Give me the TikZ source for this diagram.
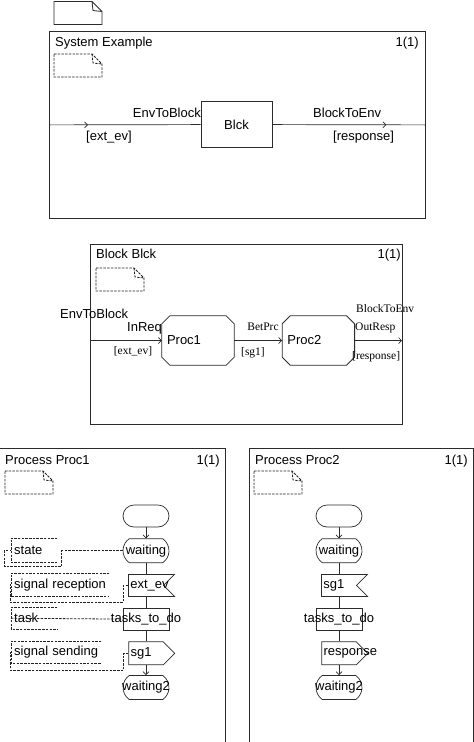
\documentclass[tikz,border=0pt]{standalone}
\usepackage{fontspec}
\setmainfont{Liberation Sans}
\newfontfamily\serifnote{Liberation Serif}
\usepackage{tikz}
\usetikzlibrary{arrows.meta,positioning,shapes.misc,shapes.symbols,decorations.markings}
\definecolor{Ink}{HTML}{2B2B2B}
\definecolor{Dash}{HTML}{222222}
\tikzset{
  frame/.style={draw=Ink,line width=0.8pt,anchor=north west,inner sep=0pt},
  title/.style={inner sep=0pt},
  symbol/.style={draw=Ink,line width=0.7pt,minimum width=46pt,minimum height=22pt,inner sep=0pt},
  startbox/.style={symbol,rounded rectangle},
  statebox/.style={symbol,rounded rectangle,rounded rectangle arc length=110,minimum height=24pt},
  inputbox/.style={symbol,signal,signal to=nowhere,signal from=east},
  outputbox/.style={symbol,signal,signal to=east,minimum height=23pt},
  taskbox/.style={symbol,rectangle},
  blockbox/.style={draw=Ink,line width=0.8pt,minimum width=71pt,minimum height=46pt},
  procbox/.style={minimum width=72pt,minimum height=49pt,inner sep=0pt},
  procline/.style={draw=Ink,line width=0.8pt},
  comment/.style={inner xsep=3pt,inner ysep=0pt,align=left,anchor=north west},
  note/.style={draw=Dash,line width=0.8pt,dash pattern=on 2.5pt off 1.2pt},
  chan/.style={draw=Ink,line width=0.7pt},
  flow/.style={draw=Ink,line width=0.7pt,-{Straight Barb[length=3pt,width=6pt]}},
  tipat/.style={postaction={decorate},decoration={markings,mark=at position #1 with {\arrow{Straight Barb[length=3pt,width=6pt]}}}},
  sigsans/.style={inner sep=0pt},
  sigserif/.style={font=\serifnote\fontsize{11.5}{13}\selectfont,inner sep=0pt},
  every label/.style={inner sep=2pt},
  docnote/.pic={\draw[pic actions] (0,0) -- (38,0) -- (48,10) -- (48,23) -- (0,23) -- cycle (38,0) -- (39,9) -- (48,10);}
}

\begin{document}
\begin{tikzpicture}[x=1pt,y=-1pt,font=\fontsize{13}{15}\selectfont]
  \useasboundingbox (0,0) rectangle (474,742);
  \pic[draw=Ink,line width=0.8pt] at (54,1.5) {docnote};

  \node[frame,minimum width=376pt,minimum height=187pt] (sysframe) at (49,31) {};
  \node[title,anchor=base west] (systitle) at (55,46.5) {System Example};
  \node[title,anchor=base east] (syspage) at (419,46.5) {1(1)};
  \pic[note] at (54,54) {docnote};
  \node[blockbox] (blck) at (236.5,124.5) {Blck};
  \draw[chan,tipat=39pt] (sysframe.west) -- (blck);
  \draw[chan,tipat=114pt] (blck) -- (sysframe.east);
  \node[sigsans,anchor=base east] (sysenv) at (201,117) {EnvToBlock};
  \node[sigsans,anchor=base west] (sysext) at (86,140) {[ext\_ev]};
  \node[sigsans,anchor=base west] (sysout) at (313,117) {BlockToEnv};
  \node[sigsans,anchor=base west] (sysresp) at (333,140) {[response]};

  \node[frame,minimum width=312pt,minimum height=180pt] (blkframe) at (90,244) {};
  \node[title,anchor=base west] (blktitle) at (96,258) {Block Blck};
  \node[title,anchor=base east] (blkpage) at (401,258) {1(1)};
  \pic[note] at (96,268) {docnote};
  \node[procbox,label={[anchor=west,inner sep=5pt]west:Proc1}] (proc1) at (198,340.5) {};
  \node[procbox,right=48pt of proc1,label={[anchor=west,inner sep=5pt]west:Proc2}] (proc2) {};
  \foreach \p in {proc1,proc2}
    \draw[procline] ([xshift=8pt]\p.north west) -- ([xshift=-8pt]\p.north east) -- ([yshift=-8pt]\p.north east)
      -- ([yshift=8pt]\p.south east) -- ([xshift=-8pt]\p.south east) -- ([xshift=8pt]\p.south west)
      -- ([yshift=8pt]\p.south west) -- ([yshift=-8pt]\p.north west) -- cycle;
  \coordinate (blkin) at (90,340.5);
  \coordinate (blkout) at (402,340.5);
  \draw[flow] (blkin) -- (proc1);
  \draw[flow] (proc1) -- (proc2);
  \draw[flow] (proc2) -- (blkout);
  \node[sigsans,anchor=base west] (blkenv) at (60,318) {EnvToBlock};
  \node[sigsans,anchor=base west] (blkreq) at (127,331) {InReq};
  \node[sigserif,anchor=base] (blkext) at (133,354) {[ext\_ev]};
  \node[sigserif,anchor=base] (blkbet) at (263,330) {BetPrc};
  \node[sigserif,anchor=base] (blksg) at (253,355) {[sg1]};
  \node[sigserif,anchor=base west] (blkout2) at (356,312) {BlockToEnv};
  \node[sigserif,anchor=base west] (blkresp) at (355,330) {OutResp};
  \node[sigserif,anchor=base west] (blkrsig) at (352,359) {[response]};

  \node[frame,minimum width=228pt,minimum height=310pt] (p1frame) at (-3,448) {};
  \node[title,anchor=base west] (p1title) at (5,464) {Process Proc1};
  \node[title,anchor=base east] (p1page) at (220,464) {1(1)};
  \pic[note] at (5,471) {docnote};
  \node[startbox] (p1start) at (146,516) {};
  \node[statebox,below=11pt of p1start,label=center:waiting] (p1wait) {};
  \node[inputbox,below=11pt of p1wait,label={[anchor=west]west:ext\_ev}] (p1in) {};
  \node[taskbox,below=11pt of p1in,label=center:tasks\_to\_do] (p1task) {};
  \node[outputbox,below=11pt of p1task,label={[anchor=west]west:sg1}] (p1out) {};
  \node[statebox,below=10pt of p1out,label=center:waiting2] (p1wait2) {};
  \draw[flow] (p1start) -- (p1wait);
  \draw[chan] (p1wait) -- (p1in);
  \draw[chan] (p1in) -- (p1task);
  \draw[chan] (p1task) -- (p1out);
  \draw[flow] (p1out) -- (p1wait2);
  \node[comment,text width=40pt,minimum height=24pt] (p1cstate) at (11,538) {state};
  \node[comment,text width=92pt,minimum height=23pt] (p1crecv) at (11,573) {signal reception};
  \node[comment,text width=40pt,minimum height=22pt] (p1ctask) at (11,607) {task};
  \node[comment,text width=84pt,minimum height=22pt] (p1csend) at (11,641) {signal sending};
  \draw[note] (p1cstate.north east) -| (p1cstate.south west) -- (p1cstate.south east);
  \draw[note] (p1crecv.north east) -| (p1crecv.south west) -- (p1crecv.south east);
  \draw[note] (p1ctask.north east) -| (p1ctask.south west) -- (p1ctask.south east);
  \draw[note] (p1csend.north east) -| (p1csend.south west) -- (p1csend.south east);
  \draw[note] (p1wait.west) -| ++(-61,16) -- ++(-57,0) |- (p1cstate.west);
  \draw[note] (p1in.west) -| ++(-5,17) -- ++(-113,0) |- (p1crecv.west);
  \draw[note] (p1ctask.west) -- (p1task.west);
  \draw[note] (p1out.west) -| ++(-5,17) -- ++(-113,0) |- (p1csend.west);

  \node[frame,minimum width=224pt,minimum height=310pt] (p2frame) at (249,448) {};
  \node[title,anchor=base west] (p2title) at (255,464) {Process Proc2};
  \node[title,anchor=base east] (p2page) at (468,464) {1(1)};
  \pic[note] at (254,471) {docnote};
  \node[startbox] (p2start) at (339,516) {};
  \node[statebox,below=11pt of p2start,label=center:waiting] (p2wait) {};
  \node[inputbox,below=11pt of p2wait,label={[anchor=west]west:sg1}] (p2in) {};
  \node[taskbox,below=11pt of p2in,label=center:tasks\_to\_do] (p2task) {};
  \node[outputbox,below=11pt of p2task,label={[anchor=west]west:response}] (p2out) {};
  \node[statebox,below=10pt of p2out,label=center:waiting2] (p2wait2) {};
  \draw[flow] (p2start) -- (p2wait);
  \draw[chan] (p2wait) -- (p2in);
  \draw[chan] (p2in) -- (p2task);
  \draw[chan] (p2task) -- (p2out);
  \draw[flow] (p2out) -- (p2wait2);
\end{tikzpicture}
\end{document}
